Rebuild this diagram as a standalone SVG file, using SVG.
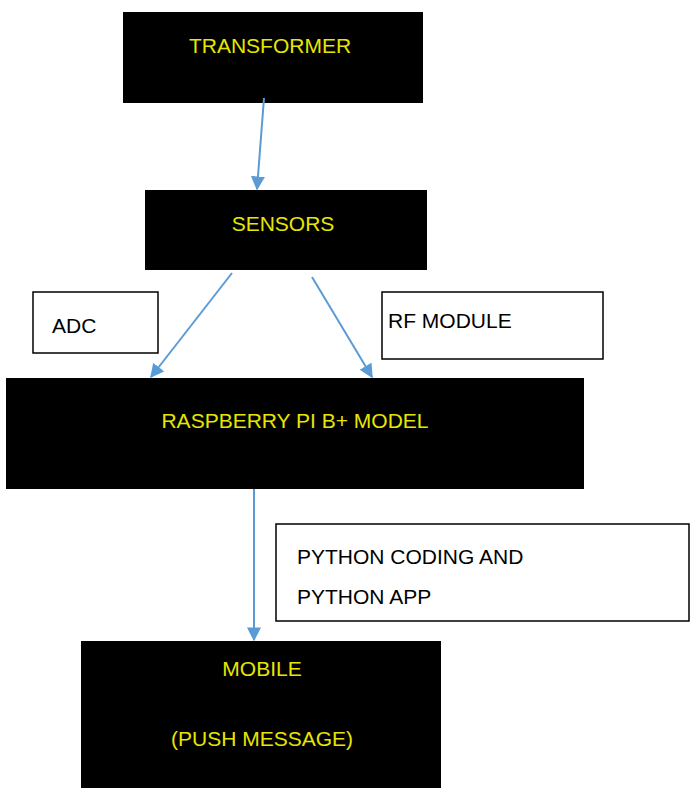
<svg xmlns="http://www.w3.org/2000/svg" width="690" height="790" viewBox="0 0 690 790">
<defs>
<style>
.b{fill:#000}
.w{fill:#fff;stroke:#000;stroke-width:1.5}
.y{fill:#e6e600;font-family:"Liberation Sans",Arial,sans-serif;font-size:21px}
.k{fill:#000;font-family:"Liberation Sans",Arial,sans-serif;font-size:21px}
.c{stroke:#5b9bd5;stroke-width:2;fill:none;marker-end:url(#a)}
</style>
<marker id="a" viewBox="0 0 10 10" refX="9" refY="5" markerWidth="7" markerHeight="7" orient="auto"><path d="M0,0L10,5L0,10z" fill="#5b9bd5"/></marker>
</defs>
<rect width="690" height="790" fill="#fff"/>
<g id="transformer"><rect class="b" x="123" y="12" width="300" height="91"/><text class="y" x="270" y="53" text-anchor="middle">TRANSFORMER</text></g>
<g id="sensors"><rect class="b" x="145" y="190" width="282" height="80"/><text class="y" x="283" y="231" text-anchor="middle">SENSORS</text></g>
<g id="adc"><rect class="w" x="33" y="292" width="125" height="61"/><text class="k" x="52" y="333">ADC</text></g>
<g id="rf"><rect class="w" x="382" y="292" width="221" height="67"/><text class="k" x="388" y="328">RF MODULE</text></g>
<g id="rpi"><rect class="b" x="6" y="378" width="578" height="111"/><text class="y" x="295" y="428" text-anchor="middle">RASPBERRY PI B+ MODEL</text></g>
<g id="python"><rect class="w" x="276" y="524" width="413" height="97"/><text class="k" x="297" y="564">PYTHON CODING AND</text><text class="k" x="297" y="604">PYTHON APP</text></g>
<g id="mobile"><rect class="b" x="81" y="641" width="360" height="147"/><text class="y" x="262" y="676" text-anchor="middle">MOBILE</text><text class="y" x="262" y="746" text-anchor="middle">(PUSH MESSAGE)</text></g>
<g id="connectors">
<line class="c" x1="264" y1="98" x2="257" y2="189"/>
<line class="c" x1="232" y1="273" x2="151" y2="377"/>
<line class="c" x1="312" y1="277" x2="372" y2="377"/>
<line class="c" x1="254" y1="489" x2="254" y2="640"/>
</g>
</svg>
